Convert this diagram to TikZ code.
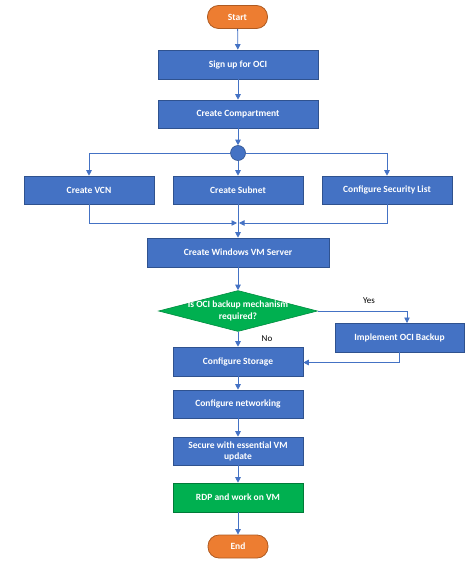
\documentclass[tikz,border=0pt]{standalone}
\usepackage{fontspec}
\setmainfont{Carlito}
\usetikzlibrary{shapes.geometric,arrows.meta,calc}
\definecolor{bfill}{HTML}{4472C4}
\definecolor{bline}{HTML}{2F528F}
\definecolor{gfill}{HTML}{00B050}
\definecolor{ofill}{HTML}{ED7D31}
\definecolor{oline}{HTML}{AE5A21}
\definecolor{aline}{HTML}{4472C4}
\tikzset{
  box/.style={draw=bline, fill=bfill, line width=0.6pt, text=white, font=\bfseries\fontsize{9.5}{11}\selectfont, inner sep=0pt, align=center},
  gbox/.style={box, fill=gfill, draw=gfill!70!black},
  term/.style={draw=oline, fill=ofill, line width=0.8pt, rounded corners=11pt, text=white, font=\bfseries\fontsize{9.5}{11}\selectfont, minimum width=60pt, minimum height=23pt, inner sep=0pt},
  conn/.style={draw=aline, line width=0.8pt},
  arr/.style={conn, -{Triangle[width=5.5pt,length=5.5pt]}},
  lbl/.style={font=\fontsize{9}{11}\selectfont, text=black}
}
\begin{document}
\begin{tikzpicture}[x=1pt,y=-1pt]
\useasboundingbox (0,0) rectangle (474,567);
\node[term] (start) at (237.5,17) {Start};
\node[box, minimum width=160pt, minimum height=29pt] (sign) at (238,64.5) {Sign up for OCI};
\node[box, minimum width=160pt, minimum height=28pt] (comp) at (238,114) {Create Compartment};
\node[circle, fill=bfill, draw=bline, line width=0.6pt, minimum size=15pt, inner sep=0pt] (hub) at (238,153) {};
\node[box, minimum width=130pt, minimum height=28pt] (vcn) at (89,190) {Create VCN};
\node[box, minimum width=130pt, minimum height=28pt] (sub) at (238,190) {Create Subnet};
\node[box, minimum width=130pt, minimum height=28pt] (sec) at (387,190) {Configure Security List};
\coordinate (merge) at (238,223);
\node[box, minimum width=182pt, minimum height=29pt] (win) at (238,252.5) {Create Windows VM Server};
\node[diamond, fill=gfill, draw=gfill!80!black, line width=0.6pt, minimum width=159pt, minimum height=41pt, inner sep=0pt] (q) at (238,311) {};
\node[text=white, font=\bfseries\fontsize{9.5}{12.5}\selectfont, align=center] (qt) at (238,311) {Is OCI backup mechanism\\required?};
\node[box, minimum width=129pt, minimum height=29pt] (impl) at (399.5,337.5) {Implement OCI Backup};
\node[box, minimum width=130pt, minimum height=29pt] (stor) at (238,361.5) {Configure Storage};
\node[box, minimum width=130pt, minimum height=28pt] (net) at (238,404) {Configure networking};
\node[box, minimum width=130pt, minimum height=28pt] (secu) at (238,451) {Secure with essential VM\\update};
\node[gbox, minimum width=130pt, minimum height=29pt] (rdp) at (238,497.5) {RDP and work on VM};
\node[term] (end) at (238,546.5) {End};
\node[lbl] (yes) at (369,301) {Yes};
\node[lbl] (no) at (267,339) {No};
\coordinate (implin) at (407,323);
% connectors
\draw[arr] (start) -- (sign);
\draw[arr] (sign) -- (comp);
\draw[arr] (comp) -- (hub);
\draw[arr] (hub.west) -| (vcn.north);
\draw[arr] (hub.east) -| (sec.north);
\draw[arr] (hub) -- (sub);
\draw[arr] (vcn.south) |- ([xshift=-1pt]merge);
\draw[arr] (sec.south) |- ([xshift=1pt]merge);
\draw[arr] (sub) -- (win);
\draw[arr] (win) -- (q);
\draw[arr] (q.east) -| (implin);
\draw[arr] (q.south) -- (stor);
\draw[arr] (impl.south) |- ([yshift=-1pt]stor.east);
\draw[arr] (stor) -- (net);
\draw[arr] (net) -- (secu);
\draw[arr] (secu) -- (rdp);
\draw[arr] (rdp) -- (end);
\end{tikzpicture}
\end{document}
